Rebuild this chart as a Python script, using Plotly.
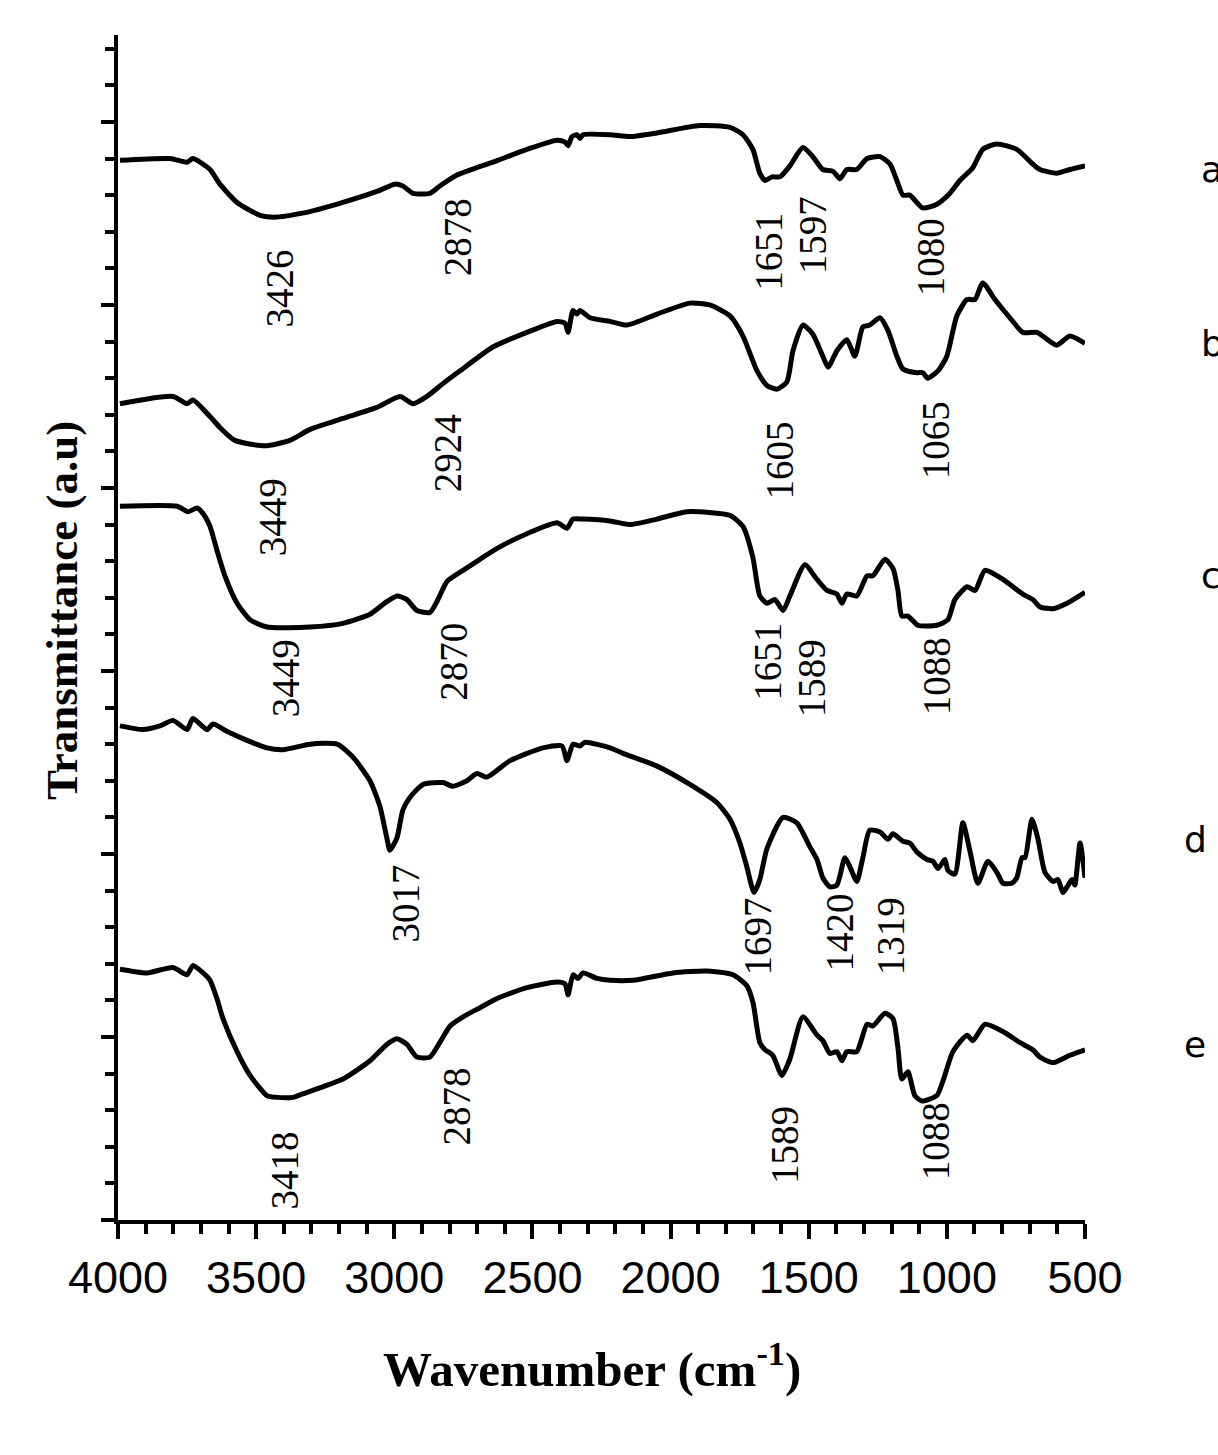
import plotly.graph_objects as go

# ---- data (wavenumber in cm-1, transmittance in a.u.) ----
wn_a = [3993, 3812, 3750, 3729, 3667, 3631, 3569, 3486, 3425, 3305, 3186, 3063, 2998, 2969, 2932, 2871, 2835, 2773,
        2701, 2643, 2520, 2411, 2382, 2371, 2357, 2339, 2328, 2317, 2219, 2147, 2049, 1894, 1785, 1738, 1702, 1677,
        1658, 1633, 1604, 1568, 1521, 1485, 1449, 1412, 1387, 1362, 1326, 1289, 1242, 1206, 1181, 1159, 1134, 1087,
        1036, 989, 953, 906, 870, 819, 747, 689, 663, 602, 555, 500]
t_a = [57.9, 58.0, 57.8, 58.0, 57.4, 56.6, 55.6, 54.9, 54.8, 55.1, 55.6, 56.2, 56.6, 56.5, 56.1, 56.1, 56.5, 57.1,
       57.5, 57.8, 58.5, 59.0, 58.9, 58.7, 59.2, 59.3, 59.1, 59.3, 59.3, 59.2, 59.4, 59.8, 59.7, 59.3, 58.5, 57.2,
       56.8, 57.0, 57.0, 57.6, 58.6, 58.1, 57.4, 57.3, 56.9, 57.4, 57.4, 58.0, 58.1, 57.7, 56.8, 56.0, 56.0, 55.3,
       55.5, 56.1, 56.8, 57.5, 58.5, 58.8, 58.5, 57.7, 57.4, 57.2, 57.4, 57.6]

wn_b = [3993, 3801, 3750, 3729, 3667, 3631, 3577, 3468, 3378, 3305, 3186, 3063, 2979, 2932, 2882, 2824, 2762, 2643,
        2520, 2411, 2382, 2371, 2353, 2339, 2328, 2292, 2219, 2158, 2049, 1930, 1858, 1785, 1738, 1687, 1651, 1615,
        1579, 1557, 1521, 1485, 1449, 1430, 1398, 1362, 1333, 1304, 1279, 1242, 1213, 1181, 1159, 1108, 1087, 1069,
        1032, 1000, 964, 927, 898, 870, 826, 772, 725, 674, 602, 555, 500]
t_b = [44.6, 45.0, 44.6, 44.8, 43.9, 43.3, 42.6, 42.3, 42.6, 43.2, 43.8, 44.4, 45.0, 44.6, 45.0, 45.7, 46.4, 47.7,
       48.5, 49.1, 49.0, 48.5, 49.7, 49.5, 49.7, 49.3, 49.1, 48.9, 49.5, 50.1, 50.0, 49.4, 48.3, 46.4, 45.6, 45.4,
       45.8, 47.5, 48.9, 48.4, 47.2, 46.6, 47.5, 48.1, 47.2, 48.8, 48.9, 49.3, 48.6, 47.2, 46.5, 46.3, 46.3, 46.0,
       46.4, 47.2, 49.4, 50.3, 50.3, 51.2, 50.3, 49.3, 48.5, 48.5, 47.8, 48.3, 47.9]

wn_c = [3993, 3786, 3747, 3714, 3692, 3667, 3642, 3613, 3569, 3522, 3461, 3305, 3186, 3088, 3026, 2990, 2954, 2918,
        2871, 2842, 2809, 2751, 2690, 2628, 2520, 2411, 2375, 2353, 2317, 2219, 2147, 2049, 1941, 1785, 1738, 1702,
        1677, 1651, 1622, 1593, 1568, 1514, 1470, 1434, 1398, 1380, 1362, 1326, 1289, 1268, 1224, 1195, 1177, 1163,
        1141, 1105, 1036, 996, 971, 927, 898, 862, 797, 725, 689, 663, 616, 565, 500]
t_c = [39.0, 39.0, 38.7, 38.9, 38.6, 37.9, 36.6, 35.2, 33.7, 32.8, 32.4, 32.4, 32.6, 33.1, 33.8, 34.1, 33.9, 33.3,
       33.2, 33.9, 34.9, 35.5, 36.1, 36.7, 37.5, 38.1, 37.8, 38.3, 38.3, 38.2, 38.0, 38.3, 38.7, 38.5, 37.9, 36.2,
       34.1, 33.7, 33.9, 33.3, 34.1, 35.8, 35.0, 34.4, 34.2, 33.7, 34.2, 34.1, 35.2, 35.2, 36.1, 35.6, 34.4, 33.0,
       33.0, 32.5, 32.5, 32.8, 33.9, 34.6, 34.4, 35.5, 35.0, 34.2, 33.9, 33.5, 33.4, 33.7, 34.3]

wn_d = [3993, 3910, 3848, 3801, 3750, 3729, 3678, 3656, 3606, 3548, 3461, 3403, 3305, 3207, 3150, 3088, 3052, 3026,
        3016, 2990, 2969, 2943, 2896, 2824, 2788, 2737, 2701, 2665, 2581, 2462, 2393, 2375, 2353, 2328, 2310, 2219,
        2172, 2049, 1930, 1832, 1785, 1749, 1724, 1698, 1677, 1651, 1593, 1543, 1496, 1470, 1449, 1423, 1398, 1369,
        1351, 1326, 1304, 1279, 1242, 1213, 1195, 1159, 1134, 1108, 1072, 1050, 1032, 1007, 996, 971, 942, 917,
        888, 851, 819, 797, 765, 747, 728, 717, 692, 670, 645, 616, 598, 580, 565, 547, 537, 518, 500]
t_d = [27.0, 26.8, 27.0, 27.3, 26.8, 27.4, 26.8, 27.1, 26.7, 26.3, 25.8, 25.7, 26.0, 26.0, 25.3, 24.0, 22.6, 20.8,
       20.2, 20.9, 22.4, 23.1, 23.8, 23.9, 23.7, 24.0, 24.4, 24.2, 25.1, 25.8, 25.9, 25.1, 26.0, 25.9, 26.1, 25.8,
       25.5, 24.8, 23.8, 22.8, 21.9, 20.6, 19.3, 17.9, 18.6, 20.3, 22.0, 21.7, 20.4, 19.7, 18.7, 18.2, 18.3, 19.8,
       19.3, 18.5, 19.8, 21.3, 21.2, 20.8, 21.1, 20.7, 20.6, 20.1, 19.7, 19.6, 19.2, 19.7, 19.1, 18.9, 21.7, 20.2,
       18.4, 19.6, 19.0, 18.4, 18.4, 18.7, 19.8, 19.8, 21.9, 20.8, 19.0, 18.5, 18.6, 17.9, 18.2, 18.6, 18.3, 20.6, 18.7]

wn_e = [3993, 3895, 3801, 3750, 3729, 3692, 3667, 3642, 3620, 3569, 3522, 3461, 3425, 3367, 3330, 3186, 3088, 3026,
        2990, 2954, 2918, 2871, 2835, 2798, 2751, 2690, 2628, 2520, 2411, 2382, 2371, 2353, 2335, 2317, 2266, 2219,
        2136, 1991, 1868, 1774, 1724, 1702, 1677, 1658, 1630, 1597, 1568, 1521, 1470, 1449, 1423, 1398, 1380, 1362,
        1326, 1289, 1268, 1224, 1195, 1177, 1163, 1141, 1116, 1090, 1036, 1014, 978, 927, 906, 862, 797, 736, 689,
        663, 616, 555, 500]
t_e = [13.7, 13.5, 13.8, 13.4, 13.9, 13.5, 13.1, 12.1, 11.0, 9.2, 7.9, 6.8, 6.7, 6.7, 6.9, 7.7, 8.7, 9.6,
       9.9, 9.6, 8.9, 8.9, 9.7, 10.6, 11.1, 11.6, 12.1, 12.7, 13.0, 12.9, 12.3, 13.4, 13.2, 13.5, 13.2, 13.1,
       13.1, 13.5, 13.6, 13.4, 12.8, 11.9, 9.7, 9.3, 9.0, 7.9, 8.8, 11.1, 10.1, 9.8, 9.1, 9.2, 8.7, 9.2,
       9.2, 10.7, 10.6, 11.3, 11.0, 9.4, 7.7, 8.1, 6.8, 6.5, 6.8, 7.6, 9.2, 10.1, 9.8, 10.7, 10.3, 9.7, 9.3,
       8.9, 8.6, 9.0, 9.3]

series = [(wn_a, t_a), (wn_b, t_b), (wn_c, t_c), (wn_d, t_d), (wn_e, t_e)]

# peak labels: (text, wavenumber position, transmittance position)
peak_text = ["3426", "2878", "1651", "1597", "1080",
             "3449", "2924", "1605", "1065",
             "3449", "2870", "1651", "1589", "1088",
             "3017", "1697", "1420", "1319",
             "3418", "2878", "1589", "1088"]
peak_x = [3417, 2773, 1644, 1485, 1061,
          3443, 2809, 1604, 1040,
          3396, 2784, 1648, 1492, 1036,
          2961, 1687, 1387, 1206,
          3396, 2773, 1586, 1043]
peak_y = [50.9, 53.7, 52.9, 53.8, 52.6,
          38.4, 41.9, 41.5, 42.6,
          29.6, 30.5, 30.5, 29.6, 29.7,
          17.3, 15.5, 15.7, 15.5,
          2.7, 6.2, 4.1, 4.3]

series_names = ["a", "b", "c", "d", "e"]
name_x = [1.118, 1.118, 1.118, 1.1, 1.1]
name_y = [57.4, 47.9, 35.2, 20.8, 9.6]

x_ticks = [4000, 3500, 3000, 2500, 2000, 1500, 1000, 500]

fig = go.Figure()
for wn, t in series:
    fig.add_trace(go.Scatter(x=wn, y=t, mode="lines",
                             line=dict(color="black", width=5, shape="spline", smoothing=0.6),
                             showlegend=False, hoverinfo="skip"))

serif = "Liberation Serif, Times New Roman, serif"
sans = "Liberation Sans, Arial, sans-serif"

for txt, px, py in zip(peak_text, peak_x, peak_y):
    fig.add_annotation(x=px, y=py, xref="x", yref="y", text=txt, textangle=-90,
                       showarrow=False, font=dict(family=serif, size=39, color="black"))

for nm, nx, ny in zip(series_names, name_x, name_y):
    fig.add_annotation(x=nx, y=ny, xref="paper", yref="y", text=nm, xanchor="left",
                       showarrow=False, font=dict(family="DejaVu Sans, sans-serif", size=36, color="black"))

fig.add_annotation(x=0.49, y=-0.1224, xref="paper", yref="paper", xanchor="center", yanchor="middle",
                   text="<b>Wavenumber (cm<sup>-1</sup>)</b>", showarrow=False,
                   font=dict(family=serif, size=49, color="black"))
fig.add_annotation(x=-0.058, y=0.5148, xref="paper", yref="paper", xanchor="center", yanchor="middle",
                   textangle=-90, text="<b>Transmittance (a.u)</b>", showarrow=False,
                   font=dict(family=serif, size=45, color="black"))

fig.update_layout(
    width=1218, height=1455,
    margin=dict(l=118, r=133, t=35, b=235),
    paper_bgcolor="white", plot_bgcolor="white",
    xaxis=dict(range=[4000, 500], tickvals=x_ticks, ticktext=[str(v) for v in x_ticks],
               showgrid=False, zeroline=False, showline=True, linecolor="black", linewidth=4,
               ticks="outside", ticklen=15, tickwidth=4, tickcolor="black",
               tickfont=dict(family=sans, size=45, color="black"),
               minor=dict(dtick=100, tick0=0, ticks="outside", ticklen=10, tickwidth=4,
                          tickcolor="black", showgrid=False)),
    yaxis=dict(range=[0, 64.75], dtick=10, tick0=0, showticklabels=False,
               showgrid=False, zeroline=False, showline=True, linecolor="black", linewidth=4,
               ticks="outside", ticklen=13, tickwidth=4, tickcolor="black",
               minor=dict(dtick=2, tick0=0, ticks="outside", ticklen=9, tickwidth=4,
                          tickcolor="black", showgrid=False)),
)

fig.write_html("out.html")
